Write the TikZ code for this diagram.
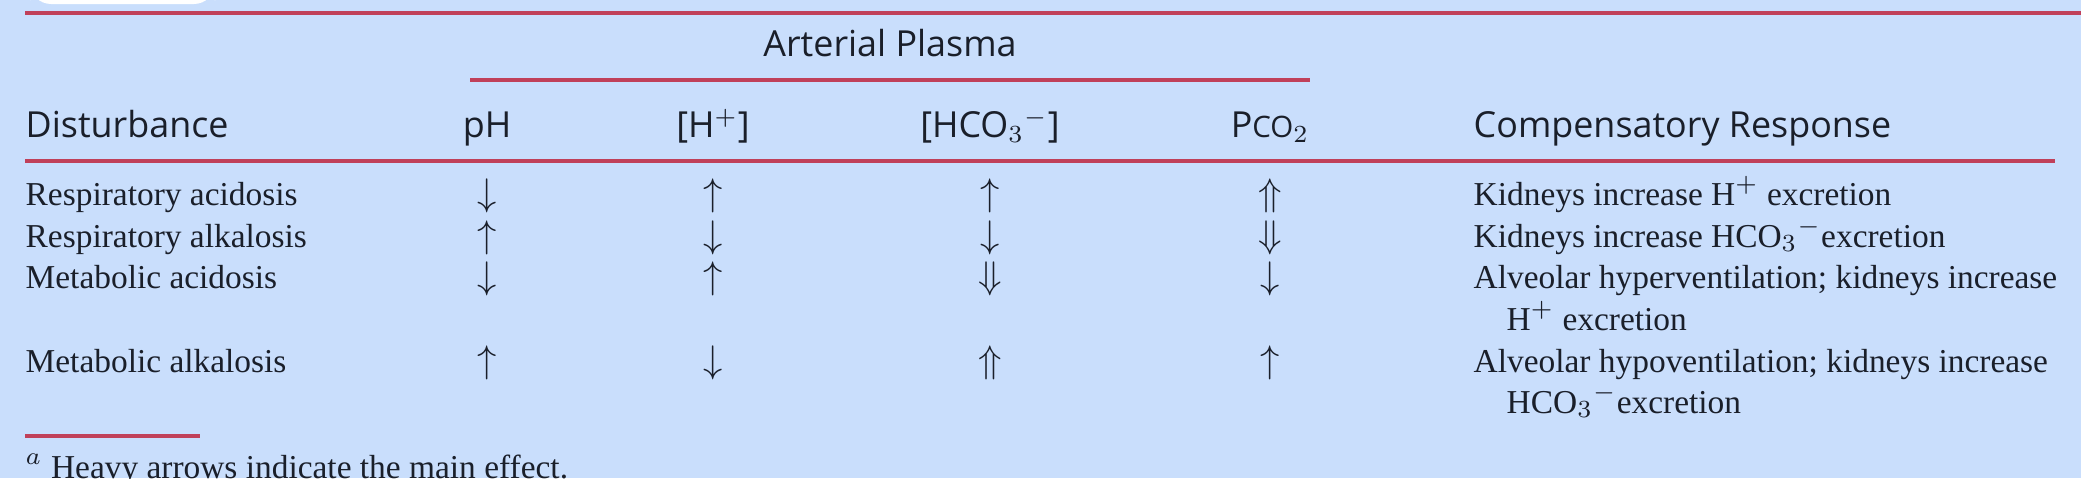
\documentclass[tikz,border=0pt]{standalone}
\usepackage{fontspec}
\setmainfont{Liberation Serif}
\newfontfamily\hdfont{Open Sans}
\definecolor{bg}{HTML}{C9DEFC}
\definecolor{rl}{HTML}{C0405A}
\definecolor{tx}{HTML}{1A1F2A}
\begin{document}
\begin{tikzpicture}[x=0.01cm,y=-0.01cm,
  hd/.style={inner sep=0,font=\hdfont\fontsize{10.2pt}{12pt}\selectfont,text=tx},
  bd/.style={inner sep=0,font=\fontsize{9.5pt}{11pt}\selectfont,text=tx},
  ar/.style={inner sep=0,font=\fontsize{11pt}{12pt}\selectfont,text=tx,anchor=base},
  rule/.style={draw=rl,line width=0.9pt}]
\useasboundingbox (0,0) rectangle (2081,478);
\clip (0,0) rectangle (2081,478);
\fill[bg] (0,0) rectangle (2081,478);
\fill[white,rounded corners=6pt] (30,-20) rectangle (215,4);
\coordinate (t1) at (25,13); \coordinate (t2) at (2081,13);
\draw[rule,line width=1.4pt] (t1) -- (t2);
\node[hd,anchor=base] (ap) at (890,56) {Arterial Plasma};
\coordinate (a1) at (470,80); \coordinate (a2) at (1310,80);
\draw[rule] (a1) -- (a2);
\node[hd,anchor=base west] (h0) at (25,137) {Disturbance};
\node[hd,anchor=base] (h1) at (487,137) {pH};
\node[hd,anchor=base] (h2) at (713,137) {[H$^+$]};
\node[hd,anchor=base] (h3) at (990,137) {[HCO$_3$$^-$]};
\node[hd,anchor=base] (h4) at (1270,137) {P{\fontsize{8.4pt}{10pt}\selectfont CO}$_2$};
\node[hd,anchor=base west] (h5) at (1473,137) {Compensatory Response};
\coordinate (m1) at (25,161); \coordinate (m2) at (2055,161);
\draw[rule] (m1) -- (m2);
% rows
\node[bd,anchor=base west] (r1) at (25,205) {Respiratory acidosis};
\node[bd,anchor=base west] (r2) at (25,247) {Respiratory alkalosis};
\node[bd,anchor=base west] (r3) at (25,288) {Metabolic acidosis};
\node[bd,anchor=base west] (r4) at (25,372) {Metabolic alkalosis};
\foreach \y/\a/\b/\c/\d [count=\i] in {205/\downarrow/\uparrow/\uparrow/\Uparrow,
  247/\uparrow/\downarrow/\downarrow/\Downarrow,
  288/\downarrow/\uparrow/\Downarrow/\downarrow,
  372/\uparrow/\downarrow/\Uparrow/\uparrow}{
  \node[ar] (p\i) at (487,\y) {$\a$};
  \node[ar] (q\i) at (713,\y) {$\b$};
  \node[ar] (s\i) at (990,\y) {$\c$};
  \node[ar] (c\i) at (1270,\y) {$\d$};
}
\node[bd,anchor=base west] (k1) at (1473,205) {Kidneys increase H$^+$ excretion};
\node[bd,anchor=base west] (k2) at (1473,247) {Kidneys increase HCO$_3$$^-$excretion};
\node[bd,anchor=base west] (k3) at (1473,288) {Alveolar hyperventilation; kidneys increase};
\node[bd,anchor=base west] (k3b) at (1506,330) {H$^+$ excretion};
\node[bd,anchor=base west] (k4) at (1473,372) {Alveolar hypoventilation; kidneys increase};
\node[bd,anchor=base west] (k4b) at (1506,413) {HCO$_3$$^-$excretion};
\coordinate (f1) at (25,436); \coordinate (f2) at (200,436);
\draw[rule] (f1) -- (f2);
\node[bd,anchor=base west] (fn) at (25,478) {$^{a}$ Heavy arrows indicate the main effect.};
\end{tikzpicture}
\end{document}
